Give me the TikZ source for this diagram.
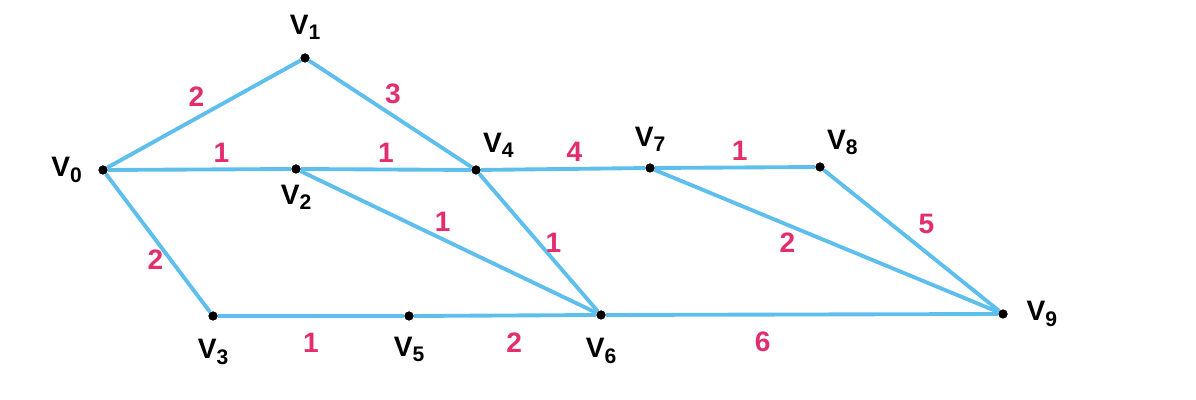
\documentclass[tikz,border=0pt]{standalone}
\usepackage{fontspec}
\setsansfont{Liberation Sans}
\usepackage{tikz}
\usetikzlibrary{positioning}

\definecolor{edgeblue}{RGB}{94,190,236}
\definecolor{wpink}{RGB}{226,45,110}

\newcommand{\vname}[1]{V\raisebox{-0.35ex}{\fontsize{12}{12}\selectfont #1}}

\tikzset{
    vert/.style={circle, fill=black, inner sep=0pt, minimum size=0.18cm},
    vlabel/.style={font=\sffamily\bfseries\fontsize{16}{16}\selectfont},
    wlabel/.style={text=wpink, font=\sffamily\bfseries\fontsize{16}{16}\selectfont, inner sep=3pt},
    edge/.style={draw=edgeblue, line width=2.2pt}
}

\begin{document}
\begin{tikzpicture}
        \useasboundingbox (0, 0) rectangle (23.92, -8);
        \node[vert] (v0) at (2.06, -3.40) {};
        \node[vert] (v1) at (6.10, -1.16) {};
        \node[vert] (v2) at (5.92, -3.38) {};
        \node[vert] (v4) at (9.52, -3.40) {};
        \node[vert] (v7) at (13.00, -3.36) {};
        \node[vert] (v8) at (16.40, -3.34) {};
        \node[vert] (v3) at (4.26, -6.32) {};
        \node[vert] (v5) at (8.18, -6.32) {};
        \node[vert] (v6) at (12.02, -6.30) {};
        \node[vert] (v9) at (20.06, -6.28) {};

        \node[vlabel, left=0.2 of v0] {\vname{0}};
        \node[vlabel, above=0.15 of v1] {\vname{1}};
        \node[vlabel, below=0.1 of v2] {\vname{2}};
        \node[vlabel, above right=0.05 and -0.05 of v4] {\vname{4}};
        \node[vlabel, above=0.1 of v7] {\vname{7}};
        \node[vlabel, above right=0.05 and -0.05 of v8] {\vname{8}};
        \node[vlabel, below=0.25 of v3] {\vname{3}};
        \node[vlabel, below=0.2 of v5] {\vname{5}};
        \node[vlabel, below=0.25 of v6] {\vname{6}};
        \node[vlabel, right=0.25 of v9] {\vname{9}};

        \draw[edge] (v0) -- node[wlabel, above left, xshift=0.15cm] {2} (v1);
        \draw[edge] (v1) -- node[wlabel, above right, xshift=-0.25cm, yshift=0.05cm] {3} (v4);
        \draw[edge] (v0) -- node[wlabel, pos=0.62, above] {1} (v2);
        \draw[edge] (v2) -- node[wlabel, above] {1} (v4);
        \draw[edge] (v4) -- node[wlabel, pos=0.57, above] {4} (v7);
        \draw[edge] (v7) -- node[wlabel, pos=0.53, above] {1} (v8);
        \draw[edge] (v0) -- node[wlabel, pos=0.62, left] {2} (v3);
        \draw[edge] (v2) -- node[wlabel, pos=0.48, above] {1} (v6);
        \draw[edge] (v4) -- node[wlabel, pos=0.5, right] {1} (v6);
        \draw[edge] (v7) -- node[wlabel, pos=0.43, below left, yshift=0.1cm] {2} (v9);
        \draw[edge] (v8) -- node[wlabel, pos=0.5, above right] {5} (v9);
        \draw[edge] (v3) -- node[wlabel, below=0.2] {1} (v5);
        \draw[edge] (v5) -- node[wlabel, pos=0.55, below=0.2] {2} (v6);
        \draw[edge] (v6) -- node[wlabel, pos=0.4, below=0.2] {6} (v9);

        % dots on top of the lines
        \foreach \v in {v0, v1, v2, v3, v4, v5, v6, v7, v8, v9}
            \fill (\v) circle (0.09);
\end{tikzpicture}
\end{document}
